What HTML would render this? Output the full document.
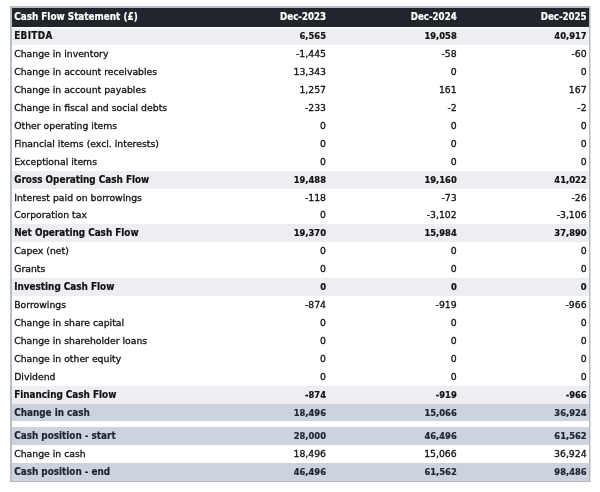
<!DOCTYPE html>
<html lang="en">
<head>
<meta charset="utf-8">
<title>Cash Flow Statement</title>
<style>
html,body{margin:0;padding:0;background:#fff;}
body{width:600px;height:492px;overflow:hidden;position:relative;font-family:"DejaVu Sans","Liberation Sans",sans-serif;font-size:9.3px;color:#111;}
.frame{position:absolute;left:10px;top:6px;width:580px;height:476px;box-sizing:border-box;border-top:2px solid #b9bec6;border-left:2px solid #b9bec6;border-right:1px solid #b6bbc3;box-shadow:1px 0 0 #dcdfe4;border-bottom:1px solid #b3b8c1;background:#fff;}
.row{position:relative;height:17.94px;line-height:17.9px;white-space:nowrap;}
.row span{position:absolute;top:0;-webkit-text-stroke:0.3px currentColor;}
.head span,.sub span,.med span,.bold span{-webkit-text-stroke:0.2px currentColor;}
.head .c1,.head .c2,.head .c3{font-size:9.65px;}
.first .l{letter-spacing:0.35px;}
.l{left:2.2px;}
.c1{right:263px;}
.c2{right:132.3px;}
.c3{right:2.4px;}
.head,.sub,.med,.bold{font-family:"DejaVu Sans Condensed","DejaVu Sans","Liberation Sans",sans-serif;font-stretch:condensed;font-size:9.3px;}
.head .l,.sub .l,.med .l,.bold .l{font-size:9.85px;}
.head{height:19.1px;line-height:18.6px;background:#22252b;color:#fff;font-weight:bold;}
.sub{background:#edeef2;font-weight:bold;}
.first{box-shadow:inset 0 1.5px 0 #fff;}
.tot{background:#cdd3dd;color:#1f2530;}
.med{font-weight:bold;height:17.2px;}
.bold,.plain2{height:17.87px;}
.bold{font-weight:bold;}
.gap{height:6.05px;background:#fff;}

</style>
</head>
<body>
<div class="frame">
<div class="row head"><span class="l">Cash Flow Statement (£)</span><span class="c1">Dec-2023</span><span class="c2">Dec-2024</span><span class="c3">Dec-2025</span></div>
<div class="row sub first"><span class="l">EBITDA</span><span class="c1">6,565</span><span class="c2">19,058</span><span class="c3">40,917</span></div>
<div class="row "><span class="l">Change in inventory</span><span class="c1">-1,445</span><span class="c2">-58</span><span class="c3">-60</span></div>
<div class="row "><span class="l">Change in account receivables</span><span class="c1">13,343</span><span class="c2">0</span><span class="c3">0</span></div>
<div class="row "><span class="l">Change in account payables</span><span class="c1">1,257</span><span class="c2">161</span><span class="c3">167</span></div>
<div class="row "><span class="l">Change in fiscal and social debts</span><span class="c1">-233</span><span class="c2">-2</span><span class="c3">-2</span></div>
<div class="row "><span class="l">Other operating items</span><span class="c1">0</span><span class="c2">0</span><span class="c3">0</span></div>
<div class="row "><span class="l">Financial items (excl. interests)</span><span class="c1">0</span><span class="c2">0</span><span class="c3">0</span></div>
<div class="row "><span class="l">Exceptional items</span><span class="c1">0</span><span class="c2">0</span><span class="c3">0</span></div>
<div class="row sub"><span class="l">Gross Operating Cash Flow</span><span class="c1">19,488</span><span class="c2">19,160</span><span class="c3">41,022</span></div>
<div class="row "><span class="l">Interest paid on borrowings</span><span class="c1">-118</span><span class="c2">-73</span><span class="c3">-26</span></div>
<div class="row "><span class="l">Corporation tax</span><span class="c1">0</span><span class="c2">-3,102</span><span class="c3">-3,106</span></div>
<div class="row sub"><span class="l">Net Operating Cash Flow</span><span class="c1">19,370</span><span class="c2">15,984</span><span class="c3">37,890</span></div>
<div class="row "><span class="l">Capex (net)</span><span class="c1">0</span><span class="c2">0</span><span class="c3">0</span></div>
<div class="row "><span class="l">Grants</span><span class="c1">0</span><span class="c2">0</span><span class="c3">0</span></div>
<div class="row sub"><span class="l">Investing Cash Flow</span><span class="c1">0</span><span class="c2">0</span><span class="c3">0</span></div>
<div class="row "><span class="l">Borrowings</span><span class="c1">-874</span><span class="c2">-919</span><span class="c3">-966</span></div>
<div class="row "><span class="l">Change in share capital</span><span class="c1">0</span><span class="c2">0</span><span class="c3">0</span></div>
<div class="row "><span class="l">Change in shareholder loans</span><span class="c1">0</span><span class="c2">0</span><span class="c3">0</span></div>
<div class="row "><span class="l">Change in other equity</span><span class="c1">0</span><span class="c2">0</span><span class="c3">0</span></div>
<div class="row "><span class="l">Dividend</span><span class="c1">0</span><span class="c2">0</span><span class="c3">0</span></div>
<div class="row sub"><span class="l">Financing Cash Flow</span><span class="c1">-874</span><span class="c2">-919</span><span class="c3">-966</span></div>
<div class="row tot med"><span class="l">Change in cash</span><span class="c1">18,496</span><span class="c2">15,066</span><span class="c3">36,924</span></div>
<div class="row gap"></div>
<div class="row tot bold"><span class="l">Cash position - start</span><span class="c1">28,000</span><span class="c2">46,496</span><span class="c3">61,562</span></div>
<div class="row plain2"><span class="l">Change in cash</span><span class="c1">18,496</span><span class="c2">15,066</span><span class="c3">36,924</span></div>
<div class="row tot bold"><span class="l">Cash position - end</span><span class="c1">46,496</span><span class="c2">61,562</span><span class="c3">98,486</span></div>
</div>
</body>
</html>
